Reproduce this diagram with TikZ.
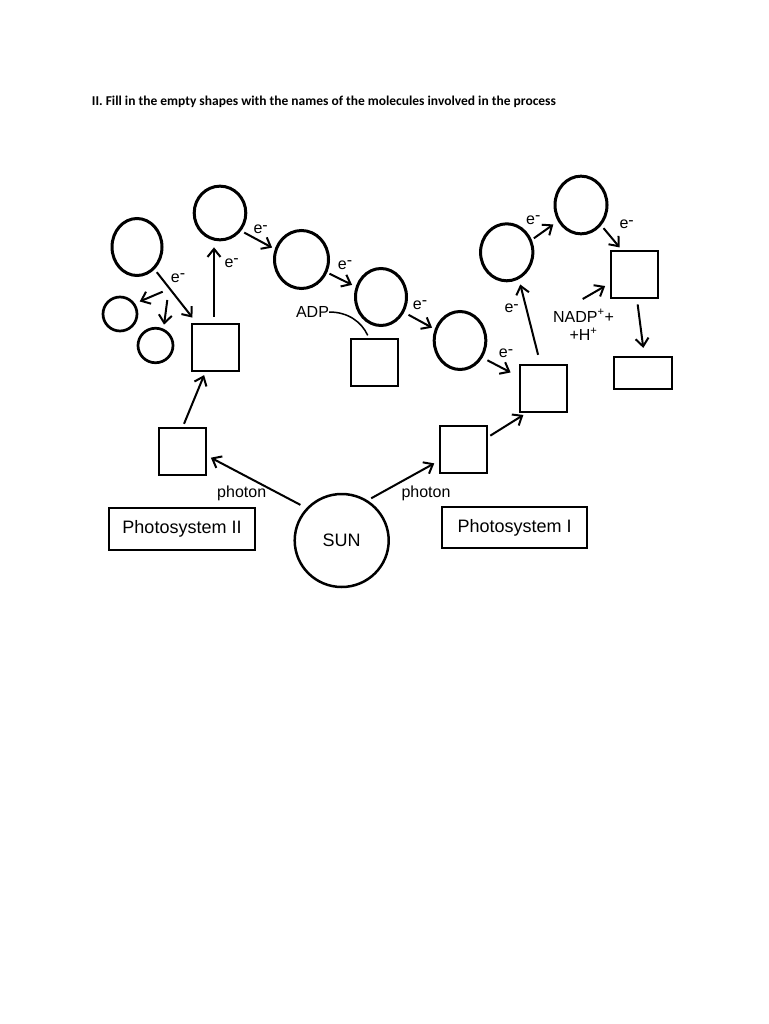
\documentclass[tikz,border=0pt]{standalone}
\usepackage{fontspec}
\setmainfont{Liberation Sans}
\newfontfamily\titlefont{Carlito}
\usetikzlibrary{shapes.geometric,arrows.meta}
\begin{document}
\begin{tikzpicture}[x=1pt,y=-1pt,
  ring/.style={draw, ellipse, line width=3pt, inner sep=0pt, outer sep=0pt},
  sq/.style={draw, rectangle, line width=2pt, minimum width=47pt, minimum height=47pt, inner sep=0pt, outer sep=0pt},
  lbl/.style={inner sep=0pt, font=\fontsize{16}{18.5}\selectfont},
  arr/.style={line width=2pt, -{Straight Barb[length=8pt,width=13pt]}},
  ]
\useasboundingbox (0,0) rectangle (768,1024);
\fill[white] (0,0) rectangle (768,1024);

\node[anchor=base west, inner sep=0pt, font=\titlefont\bfseries\fontsize{13.5}{16}\selectfont] (title) at (91.7,105.7)
  {II. Fill in the empty shapes with the names of the molecules involved in the process};

% circles
\node[ring, minimum width=50pt, minimum height=57pt] (A) at (137,247) {};
\node[ring, minimum width=51.6pt, minimum height=53.7pt] (C) at (220,213) {};
\node[ring, minimum width=54pt, minimum height=58pt] (D) at (301.5,259.5) {};
\node[ring, minimum width=51pt, minimum height=57pt] (E) at (381,297) {};
\node[ring, minimum width=51.6pt, minimum height=58pt] (G) at (460,340.5) {};
\node[ring, minimum width=52.3pt, minimum height=57pt] (H) at (506.7,252.3) {};
\node[ring, minimum width=52pt, minimum height=57.7pt] (I) at (581,205) {};
\node[ring, line width=2.7pt, minimum width=34pt, minimum height=34pt] (s1c) at (120,314) {};
\node[ring, line width=2.7pt, minimum width=35pt, minimum height=34.5pt] (s2c) at (155.5,345.5) {};
\node[ring, line width=2.5pt, minimum width=94pt, minimum height=93pt, font=\fontsize{18}{20}\selectfont] (SUN) at (341.7,540.5) {SUN};

% squares
\node[sq] (B) at (215.5,347) {};
\node[sq] (F) at (374,362.5) {};
\node[sq] (J) at (634.7,274) {};
\node[sq] (L) at (543,388) {};
\node[sq] (M) at (182.5,451) {};
\node[sq] (N) at (463,449) {};
\node[sq, minimum width=58pt, minimum height=32.3pt] (K) at (643.3,373) {};
\node[sq, minimum width=145.4pt, minimum height=42pt, font=\fontsize{18}{20}\selectfont] (PSII) at (182,528.7) {Photosystem II};
\node[sq, minimum width=145.3pt, minimum height=41.3pt, font=\fontsize{18}{20}\selectfont] (PSI) at (514.7,527.7) {Photosystem I};

% labels
\node[lbl] (e1) at (178,278) {e\raisebox{.22em}{-}};
\node[lbl] (e2) at (231.7,263) {e\raisebox{.22em}{-}};
\node[lbl] (e3) at (260.7,229.3) {e\raisebox{.22em}{-}};
\node[lbl] (e4) at (345,265) {e\raisebox{.22em}{-}};
\node[lbl] (e5) at (420,305) {e\raisebox{.22em}{-}};
\node[lbl] (e6) at (506,353.3) {e\raisebox{.22em}{-}};
\node[lbl] (e7) at (511.7,308.3) {e\raisebox{.22em}{-}};
\node[lbl] (e8) at (533.3,220) {e\raisebox{.22em}{-}};
\node[lbl] (e9) at (626.7,224.3) {e\raisebox{.22em}{-}};
\node[lbl] (adp) at (312.5,312) {ADP};
\node[lbl, align=center] (nadp) at (583.5,325) {NADP\textsuperscript{+}+\\+H\textsuperscript{+}};
\node[lbl] (ph1) at (241.7,493) {photon};
\node[lbl] (ph2) at (426,493) {photon};

% free arrow starts
\coordinate (s1) at (162.7,291.7);
\coordinate (s2) at (167.3,300);
\coordinate (n1) at (582.7,299);

% connectors
\draw[arr, shorten <=5pt, shorten >=7.5pt] (A) -- (B);
\draw[arr, shorten >=6.5pt] (s1) -- (s1c.36);
\draw[arr, shorten >=5.5pt] (s2) -- (s2c.63);
\draw[arr, shorten <=4pt, shorten >=5pt] (M.north) -- (B.-112);
\draw[arr, shorten <=8pt, shorten >=5.5pt] (SUN.137) -- (M.-10);
\draw[arr, shorten <=5.5pt, shorten >=6pt] (SUN.58) -- (N.206);
\draw[arr, shorten <=4.5pt, shorten >=6.5pt] (N.25) -- (L.-121);
\draw[arr, shorten <=6.8pt, shorten >=7.5pt] ([xshift=-1.5pt]B.north) -- ([xshift=-1.5pt]B.north |- C.south);
\draw[arr, shorten <=5pt, shorten >=4.5pt] (C.-41) -- (D.159);
\draw[arr, shorten <=4pt, shorten >=5.5pt] (D.-27) -- (E.158);
\draw[arr, shorten <=6.5pt, shorten >=4.5pt] (E.-34) -- (G.156);
\draw[arr, shorten <=7pt, shorten >=10pt] (G.-38) -- (L.155);
\draw[arr, shorten <=10pt, shorten >=7pt] (L.96) -- (H.-65);
\draw[arr, shorten <=4pt, shorten >=7pt] (H.26) -- (I.215);
\draw[arr, shorten <=5pt, shorten >=4pt] (I.-45) -- (J.118);
\draw[arr, shorten >=7pt] (n1) -- (J.200);
\draw[arr, shorten <=7pt, shorten >=9pt] (J.-85) -- (K.86);
\draw[line width=1.5pt, shorten >=4pt] (adp.east) to[out=0, in=115] (F.101);
\end{tikzpicture}
\end{document}
